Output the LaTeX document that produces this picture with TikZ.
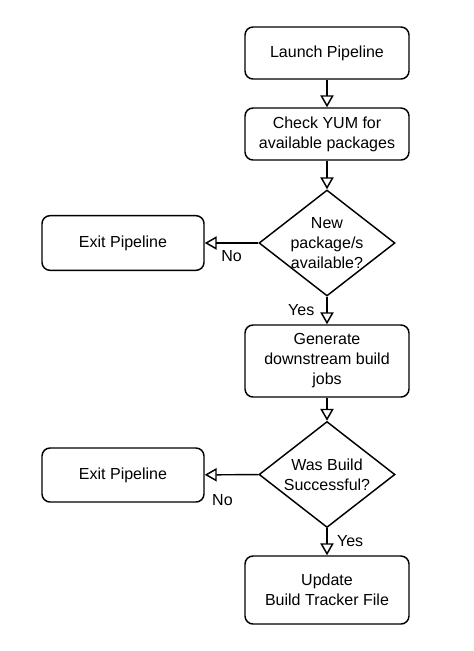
\documentclass[tikz,border=0pt]{standalone}
\usepackage{fontspec}
\setmainfont{Liberation Sans}
\usetikzlibrary{shapes}
\usetikzlibrary{shapes.geometric}
\usetikzlibrary{positioning}
\usetikzlibrary{arrows.meta}
\tikzset{
    stepbox/.style = {rectangle, rounded corners=6pt, line width=1.1pt, draw=black, fill=white, align=center, minimum width=123pt, minimum height=39pt},
    exitbox/.style = {stepbox, minimum width=121.5pt, minimum height=41pt},
    decision/.style = {diamond, line width=1.1pt, draw=black, fill=white, align=center, aspect=1.28, inner sep=-2pt, minimum width=102pt, minimum height=79.5pt},
    edgen/.style = {-{Triangle[open,length=9pt,width=10pt]},line width=1.1pt},
    lbl/.style = {inner sep=1pt},
    every node/.style={font=\fontsize{12}{15}\selectfont}
}
\begin{document}
\begin{tikzpicture}[x=0.75pt,y=-0.75pt]
\useasboundingbox (0,0) rectangle (474,651);
%
\node[stepbox] at (327, 53) (launch) {Launch Pipeline};
\node[stepbox] at (327, 134) (check) {Check YUM for\\available packages};
\node[decision] at (327, 243) (newpkg) {New\\package/s\\available?};
\node[exitbox] at (123, 243) (exita) {Exit Pipeline};
\node[stepbox, minimum height=54pt] at (327, 361) (generate) {Generate\\downstream build\\jobs};
\node[decision] at (327, 474.5) (success) {Was Build\\Successful?};
\node[exitbox, minimum height=40.5pt] at (123, 475) (exitb) {Exit Pipeline};
\node[stepbox, minimum height=51pt] at (327, 590) (update) {Update\\Build Tracker File};
%
\draw[edgen] (launch) edge node {} (check);
\draw[edgen] (check) edge node {} (newpkg);
\draw[edgen] (newpkg) edge node[lbl, pos=0.5, below=4pt] {No} (exita);
\draw[edgen] (newpkg) edge node[lbl, pos=0.5, left=8pt] {Yes} (generate);
\draw[edgen] (generate) edge node {} (success);
\draw[edgen] (success) edge node[lbl, pos=0.67, below=13pt] {No} (exitb);
\draw[edgen] (success) edge node[lbl, pos=0.46, right=6pt] {Yes} (update);

\end{tikzpicture}
\end{document}
